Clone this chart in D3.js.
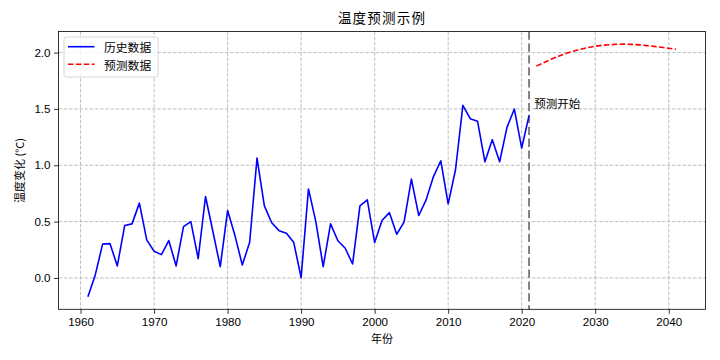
<!DOCTYPE html>
<html>
<head>
<meta charset="utf-8">
<script src="https://cdn.jsdelivr.net/npm/d3@7"></script>
<style>
  html, body { margin: 0; padding: 0; background: #fff; }
  svg { display: block; }
  .cjk { font-family: "Noto Sans CJK SC", "Noto Sans", sans-serif; }
  .tick text { font-family: "Liberation Sans", Arial, sans-serif; }
</style>
</head>
<body>
<svg id="chart" width="720" height="360"></svg>
<script>
// ---- data ----
const histYears = [1961,1962,1963,1964,1965,1966,1967,1968,1969,1970,
  1971,1972,1973,1974,1975,1976,1977,1978,1979,1980,
  1981,1982,1983,1984,1985,1986,1987,1988,1989,1990,
  1991,1992,1993,1994,1995,1996,1997,1998,1999,2000,
  2001,2002,2003,2004,2005,2006,2007,2008,2009,2010,
  2011,2012,2013,2014,2015,2016,2017,2018,2019,2020,2021];
const histValues = [-0.166,0.027,0.300,0.305,0.107,0.465,0.480,0.664,0.338,0.237,
  0.207,0.332,0.107,0.456,0.500,0.172,0.723,0.412,0.100,0.598,
  0.376,0.115,0.317,1.064,0.640,0.490,0.420,0.397,0.314,0.003,
  0.790,0.500,0.100,0.480,0.330,0.264,0.124,0.640,0.693,0.314,
  0.510,0.580,0.388,0.495,0.877,0.554,0.693,0.900,1.040,0.658,
  0.960,1.532,1.413,1.390,1.031,1.227,1.031,1.336,1.499,1.153,1.440];
const forecastYears = [2022,2023,2024,2025,2026,2027,2028,2029,2030,2031,
  2032,2033,2034,2035,2036,2037,2038,2039,2040,2041];
const forecastValues = [1.880,1.910,1.940,1.968,1.992,2.012,2.030,2.045,2.056,2.065,
  2.070,2.074,2.075,2.073,2.068,2.062,2.055,2.047,2.038,2.030];
const xTicks = [1960,1970,1980,1990,2000,2010,2020,2030,2040];
const yTicks = [0.0,0.5,1.0,1.5,2.0];
const splitYear = 2021;
const titleText = "温度预测示例";
const xLabel = "年份";
const yLabel = "温度变化 (°C)";
const legendLabels = ["历史数据", "预测数据"];
const annotText = "预测开始";

// ---- layout ----
const svg = d3.select("#chart");
const L = 58.5, R = 705.5, T = 31.5, B = 309.3;

const allX = histYears.concat(forecastYears);
const allY = histValues.concat(forecastValues);
const xmin = d3.min(allX), xmax = d3.max(allX);
const ymin = d3.min(allY), ymax = d3.max(allY);
const xpad = (xmax - xmin) * 0.05, ypad = (ymax - ymin) * 0.05;

const x = d3.scaleLinear().domain([xmin - xpad, xmax + xpad]).range([L, R]);
const y = d3.scaleLinear().domain([ymin - ypad, ymax + ypad]).range([B, T]);

// grid
const grid = svg.append("g");
grid.selectAll(".gx").data(xTicks).join("line")
  .attr("x1", d => x(d)).attr("x2", d => x(d)).attr("y1", T).attr("y2", B)
  .attr("stroke", "#b0b0b0").attr("stroke-width", 0.8).attr("stroke-dasharray", "3.6,1.6");
grid.selectAll(".gy").data(yTicks).join("line")
  .attr("y1", d => y(d)).attr("y2", d => y(d)).attr("x1", L).attr("x2", R)
  .attr("stroke", "#b0b0b0").attr("stroke-width", 0.8).attr("stroke-dasharray", "3.6,1.6");

// axes
const xAxis = d3.axisBottom(x).tickValues(xTicks).tickFormat(d3.format("d")).tickSize(4.5).tickPadding(3.5);
const yAxis = d3.axisLeft(y).tickValues(yTicks).tickFormat(d3.format(".1f")).tickSize(4.5).tickPadding(3.5);
const gx = svg.append("g").attr("transform", `translate(0,${B})`).call(xAxis);
const gy = svg.append("g").attr("transform", `translate(${L},0)`).call(yAxis);
[gx, gy].forEach(g => {
  g.select(".domain").remove();
  g.selectAll(".tick line").attr("stroke", "#000").attr("stroke-width", 0.8);
  g.selectAll(".tick text").attr("fill", "#000").style("font-size", "11.6px");
});

// lines
const line = d3.line().x(d => x(d[0])).y(d => y(d[1]));
const histData = histYears.map((yr, i) => [yr, histValues[i]]);
const fcData = forecastYears.map((yr, i) => [yr, forecastValues[i]]);

svg.append("line")
  .attr("x1", x(splitYear)).attr("x2", x(splitYear)).attr("y1", T).attr("y2", B)
  .attr("stroke", "#666").attr("stroke-width", 1.6).attr("stroke-dasharray", "8.3,3.6");

svg.append("path").datum(histData).attr("d", line)
  .attr("fill", "none").attr("stroke", "#0000ff").attr("stroke-width", 1.6)
  .attr("stroke-linejoin", "round");
svg.append("path").datum(fcData).attr("d", line)
  .attr("fill", "none").attr("stroke", "#ff0000").attr("stroke-width", 1.6)
  .attr("stroke-dasharray", "5.5,2.4");

// annotation
svg.append("text").attr("class", "cjk")
  .attr("x", x(splitYear + 0.5) + 1.5).attr("y", y(1.5) - 1)
  .style("font-size", "11.5px").attr("fill", "#000")
  .text(annotText);

// frame
svg.append("rect").attr("x", L).attr("y", T).attr("width", R - L).attr("height", B - T)
  .attr("fill", "none").attr("stroke", "#000").attr("stroke-width", 0.8);

// title & labels
svg.append("text").attr("class", "cjk")
  .attr("x", (L + R) / 2).attr("y", 23).attr("text-anchor", "middle")
  .style("font-size", "13.5px").style("letter-spacing", "1.2px").attr("fill", "#000")
  .text(titleText);
svg.append("text").attr("class", "cjk")
  .attr("x", (L + R) / 2).attr("y", 343).attr("text-anchor", "middle")
  .style("font-size", "11px").attr("fill", "#000")
  .text(xLabel);
svg.append("text").attr("class", "cjk")
  .attr("transform", `translate(24,${(T + B) / 2}) rotate(-90)`)
  .attr("text-anchor", "middle")
  .style("font-size", "11px").attr("fill", "#000")
  .text(yLabel);

// legend
const lg = svg.append("g");
lg.append("rect").attr("x", 64).attr("y", 37).attr("width", 94).attr("height", 40)
  .attr("rx", 2.5).attr("fill", "#fff").attr("fill-opacity", 0.8)
  .attr("stroke", "#cccccc").attr("stroke-width", 0.8);
const legendItems = [
  {label: legendLabels[0], color: "#0000ff", dash: null},
  {label: legendLabels[1], color: "#ff0000", dash: "5.5,2.4"}
];
legendItems.forEach((it, i) => {
  const cy = 46.7 + i * 17.6;
  const ln = lg.append("line").attr("x1", 68).attr("x2", 94.5).attr("y1", cy).attr("y2", cy)
    .attr("stroke", it.color).attr("stroke-width", 1.6);
  if (it.dash) ln.attr("stroke-dasharray", it.dash);
  lg.append("text").attr("class", "cjk").attr("x", 104).attr("y", cy)
    .attr("dominant-baseline", "central")
    .style("font-size", "11.8px").attr("fill", "#000").text(it.label);
});
</script>
</body>
</html>
